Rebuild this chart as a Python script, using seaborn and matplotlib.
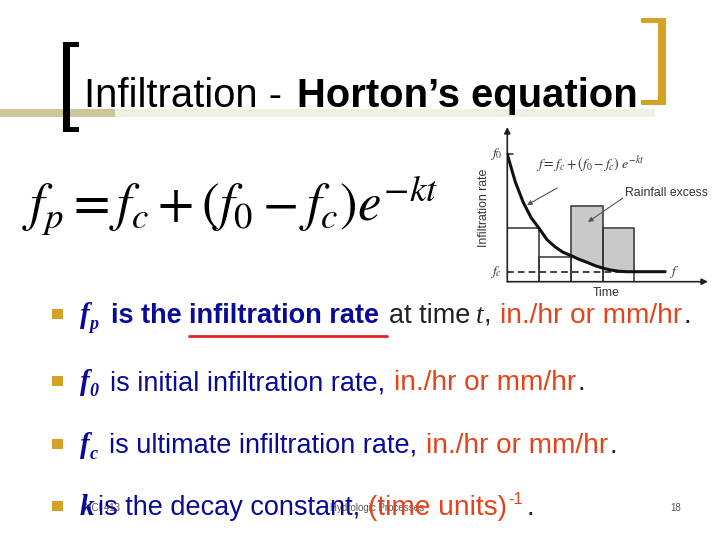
import numpy as np
import matplotlib
matplotlib.use("Agg")
import matplotlib.pyplot as plt
import seaborn as sns
from matplotlib.patches import Rectangle

# rainfall bars (one per time step) and the Horton curve
bar_start = [0, 1, 2, 3]
bar_height = [5.34, 2.5, 7.6, 5.34]
curve_t = [0, 0.25, 0.5, 0.75, 1.0, 1.25, 1.5, 1.75, 2.0, 2.25, 2.5, 2.75, 3.0, 3.25, 3.5, 3.75, 4.0, 4.97]
curve_f = [12.74, 10.0, 7.95, 6.4, 5.34, 4.2, 3.5, 2.95, 2.62, 2.25, 1.95, 1.62, 1.36, 1.17, 1.05, 1.0, 1.0, 1.0]
f0 = 12.74
fc = 1.0

title_parts = ["Infiltration - ", "Horton’s equation"]
units = "in./hr or mm/hr"
footer = ["INCI 413", "Hydrologic Processes", "18"]

W, H = 728, 546
BLUE = "#0a0a99"
RED = "#e5431a"
DARK = "#222222"
GOLD = "#d4a227"

sns.set_style("white")
plt.rcParams["font.family"] = ["Liberation Sans", "DejaVu Sans"]
plt.rcParams["mathtext.fontset"] = "stix"

fig = plt.figure(figsize=(W / 100, H / 100), dpi=100)
renderer = fig.canvas.get_renderer()


def rect(x0, y0, x1, y1, color):
    # pixel box, measured from the top-left corner
    fig.add_artist(Rectangle((x0 / W, 1 - y1 / H), (x1 - x0) / W, (y1 - y0) / H,
                             transform=fig.transFigure, color=color, lw=0))


def put(x, y, s, **kw):
    t = fig.text(x / W, 1 - y / H, s, va="baseline", ha="left", **kw)
    return t.get_window_extent(renderer).x1


# title bar decorations
rect(0, 109, 115, 117, "#cbc79b")
rect(115, 109, 655, 117, "#f1f0e4")
rect(63, 42, 70, 132, "black")
rect(63, 42, 79, 47, "black")
rect(63, 127, 79, 132, "black")
rect(658, 18, 666, 105, GOLD)
rect(641, 18, 666, 23, GOLD)
rect(641, 100, 666, 105, GOLD)

x = put(84, 107, title_parts[0], fontsize=28.8, color="black")
put(x + 4, 107, title_parts[1], fontsize=28.8, color="black", fontweight="bold")

# Horton's equation
fig.text(22 / W, 1 - 205 / H, r"$f_p = f_c + \left(f_0 - f_c\right)e^{-kt}$",
         fontsize=38, va="center", ha="left", color="black")

# bullet rows
sym = dict(family="Liberation Serif", style="italic", fontweight="bold", color=BLUE)
rows = [
    ("p", 323, [("is the", BLUE, "bold", 12), ("infiltration rate", BLUE, "bold", 8)]),
    ("0", 390, [("is initial infiltration rate,", BLUE, "normal", 11)]),
    ("c", 453, [("is ultimate infiltration rate,", BLUE, "normal", 11)]),
]

for fx, fy, ft in [(82, 507, footer[0]), (330, 507, footer[1]), (670, 507, footer[2])]:
    put(fx, fy + 4, ft, fontsize=7, color="#555555")

for sub, base, parts in rows:
    rect(52, base - 14, 63, base - 4, GOLD)
    x = put(80, base, "f", fontsize=21, **sym)
    x = put(x, base + 6, sub, fontsize=13, **sym)
    for text, col, wt, gap in parts:
        x0 = x + gap
        x = put(x0, base, text, fontsize=19.5, color=col, fontweight=wt)
        if text == "infiltration rate":
            u0 = x0
    if sub == "p":
        x1 = x + 10
        fig.add_artist(plt.Line2D([u0 / W, (x1 - 2) / W], [1 - 336 / H] * 2,
                                  transform=fig.transFigure, color="#dd2222", lw=2))
        x = put(x1, base, "at time", fontsize=19.5, color=DARK)
        x = put(x + 5, base, "t", fontsize=19.5, family="Liberation Serif", style="italic", color=DARK)
        x = put(x, base, ",", fontsize=19.5, color=DARK)
    x = put(x + 9, base, units, fontsize=20.2, color=RED)
    put(x + 1, base, ".", fontsize=19.5, color=DARK)

base = 515
rect(52, base - 14, 63, base - 4, GOLD)
x = put(80, base, "k", fontsize=21, **sym)
x = put(x + 3, base, "is the decay constant,", fontsize=19.5, color=BLUE)
x = put(x + 8, base, "(time units)", fontsize=20.2, color=RED)
x = put(x + 1, base - 11, "-1", fontsize=12, color=RED)
put(x + 4, base, ".", fontsize=19.5, color=DARK)

# inset sketch of the infiltration curve
ax = fig.add_axes([507.3 / W, 1 - 281.7 / H, (708 - 507.3) / W, (281.7 - 127) / H])
ax.set_xlim(0, 6.32)
ax.set_ylim(0, 15.47)
ax.axis("off")

ct = np.array(curve_t)
cf = np.array(curve_f)
for s, h in zip(bar_start, bar_height):
    m = (ct >= s) & (ct <= s + 1)
    ax.fill_between(ct[m], cf[m], np.maximum(cf[m], h), color="#c9c9c9", lw=0, zorder=1)
ax.bar(bar_start, bar_height, width=1, align="edge", fill=False,
       edgecolor="#333333", lw=1.1, zorder=3)
ax.plot([0, 3.6], [fc, fc], ls=(0, (4, 2.5)), lw=1.2, color=DARK, zorder=3)
sns.lineplot(x=curve_t, y=curve_f, ax=ax, color="#111111", lw=2.2, zorder=4)
ax.plot([0, 0.17], [f0, f0], color=DARK, lw=1.1, clip_on=False)

arr = dict(arrowstyle="-|>", color=DARK, lw=1.2, mutation_scale=9, shrinkA=0, shrinkB=0)
ax.annotate("", xy=(6.32, 0), xytext=(0, 0), arrowprops=arr, annotation_clip=False)
ax.annotate("", xy=(0, 15.47), xytext=(0, 0), arrowprops=arr, annotation_clip=False)

lab = dict(fontsize=8.8, color="#333333")
ax.text(-0.72, 7.4, "Infiltration rate", rotation=90, ha="center", va="center", **lab)
ax.text(3.1, -1.1, "Time", ha="center", va="center", **lab)
ax.text(3.7, 8.9, "Rainfall excess", ha="left", va="center", **lab)
ax.text(-0.15, f0, r"$f_0$", ha="right", va="center", fontsize=10, color="#333333")
ax.text(-0.15, fc, r"$f_c$", ha="right", va="center", fontsize=10, color="#333333")
ax.text(5.1, fc, r"$f$", ha="left", va="center", fontsize=10, color="#333333")
ax.text(2.6, 11.67, r"$f = f_c + (f_0 - f_c)\ e^{-kt}$", ha="center", va="center",
        fontsize=10, color="#333333")

thin = dict(arrowstyle="-|>", color="#555555", lw=0.8, mutation_scale=7, shrinkA=0, shrinkB=0)
ax.annotate("", xy=(0.62, 7.67), xytext=(1.57, 9.37), arrowprops=thin)
ax.annotate("", xy=(2.54, 5.97), xytext=(3.64, 8.37), arrowprops=thin)

fig.savefig("out.png", dpi=100)
